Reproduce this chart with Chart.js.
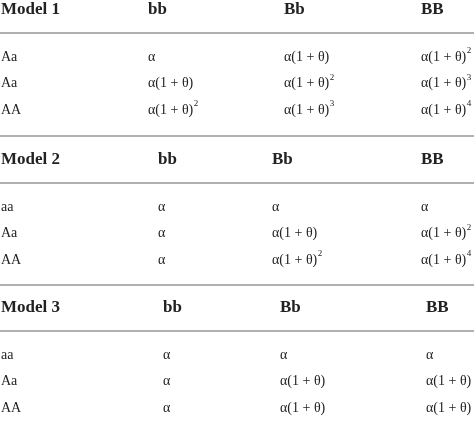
<!DOCTYPE html>
<html lang="en">
<head>
  <meta charset="UTF-8" />
  <title>Model table</title>
  <script src="https://cdn.jsdelivr.net/npm/chart.js"></script>
  <style>
    html, body { margin: 0; padding: 0; background: #fff; }
    #wrap { width: 474px; height: 430px; }
  </style>
</head>
<body>
  <div id="wrap"><canvas id="tbl"></canvas></div>
  <script>
    // table contents
    const models = ['Model 1', 'Model 2', 'Model 3'];
    const genoCols = ['bb', 'Bb', 'BB'];
    const rowLabels1 = ['Aa', 'Aa', 'AA'];
    const rowLabels2 = ['aa', 'Aa', 'AA'];
    const rowLabels3 = ['aa', 'Aa', 'AA'];
    const cells1 = [['α', 'α(1 + θ)', 'α(1 + θ)^2'], ['α(1 + θ)', 'α(1 + θ)^2', 'α(1 + θ)^3'], ['α(1 + θ)^2', 'α(1 + θ)^3', 'α(1 + θ)^4']];
    const cells2 = [['α', 'α', 'α'], ['α', 'α(1 + θ)', 'α(1 + θ)^2'], ['α', 'α(1 + θ)^2', 'α(1 + θ)^4']];
    const cells3 = [['α', 'α', 'α'], ['α', 'α(1 + θ)', 'α(1 + θ)'], ['α', 'α(1 + θ)', 'α(1 + θ)']];

    // layout (in scale units = pixels)
    const colX = [[0, 147, 283, 420], [0, 157, 271, 420], [0, 162, 279, 425]];
    const headY = [10, 160, 308];
    const ruleY = [[33, 136], [183, 285], [331]];
    const rowGap = 26.5, firstRow = 24;

    const blocks = [[rowLabels1, cells1], [rowLabels2, cells2], [rowLabels3, cells3]];
    const points = [];
    blocks.forEach(([labels, cells], b) => {
      points.push({ x: colX[b][0], y: headY[b], t: models[b], bold: true });
      genoCols.forEach((g, c) => points.push({ x: colX[b][c + 1], y: headY[b], t: g, bold: true }));
      labels.forEach((lab, r) => {
        const y = ruleY[b][0] + firstRow + r * rowGap;
        points.push({ x: colX[b][0], y, t: lab });
        cells[r].forEach((v, c) => points.push({ x: colX[b][c + 1], y, t: v }));
      });
    });

    const tablePlugin = {
      id: 'tableText',
      afterDatasetsDraw(chart) {
        const ctx = chart.ctx, xs = chart.scales.x, ys = chart.scales.y;
        ctx.save();
        ctx.strokeStyle = '#b0b0b0';
        ctx.lineWidth = 2;
        ruleY.flat().forEach(v => {
          const py = ys.getPixelForValue(v);
          ctx.beginPath(); ctx.moveTo(xs.left, py); ctx.lineTo(xs.right, py); ctx.stroke();
        });
        ctx.fillStyle = '#222';
        ctx.textBaseline = 'middle';
        points.forEach(p => {
          const px = xs.getPixelForValue(p.x), py = ys.getPixelForValue(p.y);
          if (p.bold) {
            ctx.font = 'bold 17px "Liberation Serif", serif';
            ctx.fillText(p.t, px + 1, py);
            return;
          }
          const [base, sup] = p.t.split('^');
          ctx.font = '14px "Liberation Serif", serif';
          ctx.fillText(base, px + 1, py);
          if (sup) {
            const w = ctx.measureText(base).width;
            ctx.font = '9px "Liberation Serif", serif';
            ctx.fillText(sup, px + 1 + w + 0.5, py - 6);
          }
        });
        ctx.restore();
      }
    };

    new Chart(document.getElementById('tbl'), {
      type: 'scatter',
      data: { datasets: [{ data: points, pointRadius: 0 }] },
      options: {
        responsive: true,
        maintainAspectRatio: false,
        animation: false,
        layout: { padding: 0 },
        plugins: { legend: { display: false }, tooltip: { enabled: false } },
        scales: {
          x: { type: 'linear', min: 0, max: 474, display: false },
          y: { type: 'linear', min: 0, max: 430, reverse: true, display: false }
        }
      },
      plugins: [tablePlugin]
    });
  </script>
</body>
</html>
